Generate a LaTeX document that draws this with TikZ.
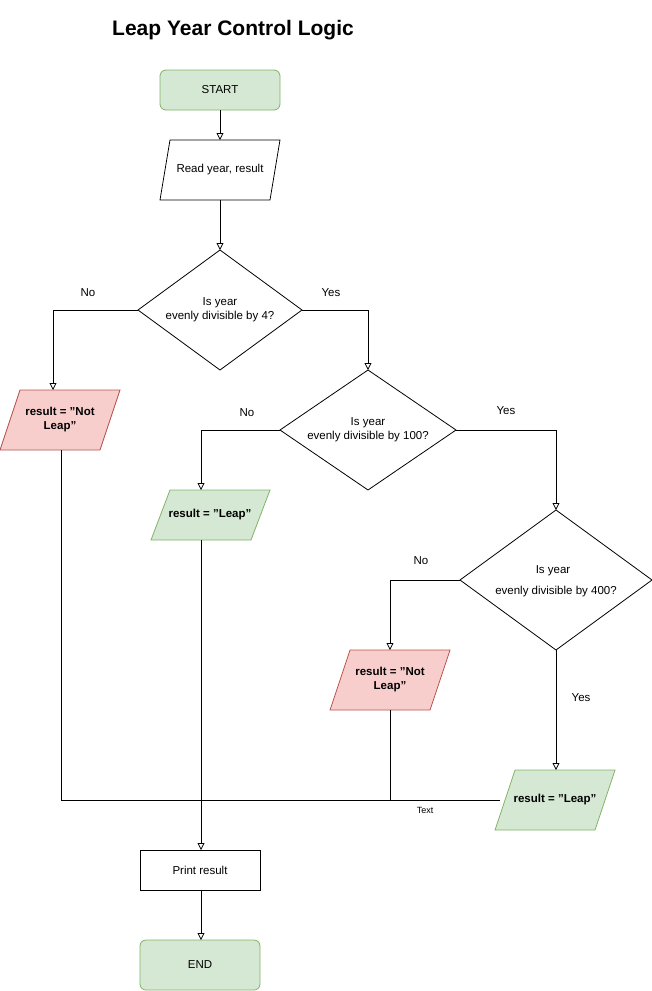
\documentclass[tikz,border=0pt]{standalone}
\usepackage{fontspec}
\setmainfont{Liberation Sans}
\usetikzlibrary{arrows.meta,shapes.geometric}
\definecolor{gfill}{HTML}{D5E8D4}\definecolor{gline}{HTML}{82B366}
\definecolor{rfill}{HTML}{F8CECC}\definecolor{rline}{HTML}{B85450}
\begin{document}
\begin{tikzpicture}[x=1pt,y=-1pt,
  txt/.style={font=\fontsize{11.5}{14}\selectfont,align=center,inner sep=0},
  btxt/.style={font=\fontsize{11.5}{14}\selectfont\bfseries,align=center,inner sep=0},
  lbl/.style={font=\fontsize{11.5}{14}\selectfont,inner sep=0},
  arr/.style={-{Triangle[open,length=7pt,width=7pt]}},
  ln/.style={line width=0.8pt}]
\useasboundingbox (0,0) rectangle (651,991);
\node[font=\fontsize{21}{24}\selectfont\bfseries] (title) at (233,30) {Leap Year Control Logic};
% START
\draw[ln,fill=gfill,draw=gline,rounded corners=6pt] (160,70) rectangle (280,110);
\node[txt] (start) at (220,90) {START};
% Read
\draw[ln,fill=white] (170,140) -- (280,140) -- (270,200) -- (160,200) -- cycle;
\node[txt] (read) at (220,170) {Read year, result};
% Diamond 1
\draw[ln] (220,250) -- (302,310) -- (220,370) -- (138,310) -- cycle;
\node[txt] (d1) at (220,310) {Is year\\evenly divisible by 4?};
% Red 1
\draw[ln,fill=rfill,draw=rline] (20,390) -- (120,390) -- (100,450) -- (0,450) -- cycle;
\node[btxt] (r1) at (60,420) {result = "Not\\Leap"};
% Diamond 2
\draw[ln] (368,370) -- (456,430) -- (368,490) -- (280,430) -- cycle;
\node[txt] (d2) at (368,430) {Is year\\evenly divisible by 100?};
% Green 1
\draw[ln,fill=gfill,draw=gline] (170,490) -- (270,490) -- (251,540) -- (151,540) -- cycle;
\node[btxt] (g1) at (210,515) {result = "Leap"};
% Diamond 3
\draw[ln] (556,510) -- (652,580) -- (556,650) -- (460,580) -- cycle;
\node[txt] (d3a) at (553,571) {Is year};
\node[txt] (d3b) at (556,592) {evenly divisible by 400?};
% Red 2
\draw[ln,fill=rfill,draw=rline] (350,650) -- (450,650) -- (430,710) -- (330,710) -- cycle;
\node[btxt] (r2) at (390,680) {result = "Not\\Leap"};
% Green 2
\draw[ln,fill=gfill,draw=gline] (515,770) -- (615,770) -- (595,830) -- (495,830) -- cycle;
\node[btxt] (g2) at (555,800) {result = "Leap"};
% Print
\draw[ln] (140,850) rectangle (260,890);
\node[txt] (print) at (200,870) {Print result};
% END
\draw[ln,fill=gfill,draw=gline,rounded corners=6pt] (140,940) rectangle (260,990);
\node[txt] (end) at (200,965) {END};
% labels
\node[lbl] (no1) at (88,293) {No};
\node[lbl] (yes1) at (331,293) {Yes};
\node[lbl] (no2) at (247,413) {No};
\node[lbl] (yes2) at (506,411) {Yes};
\node[lbl] (no3) at (421,561) {No};
\node[lbl] (yes3) at (581,698) {Yes};
\node[font=\fontsize{9}{10}\selectfont,inner sep=0] (t) at (425,810) {Text};
% connectors
\draw[ln,arr] (220,110) -- (220,140);
\draw[ln,arr] (220,200) -- (220,250);
\draw[ln,arr] (138,310) -- (53,310) -- (53,390);
\draw[ln,arr] (302,310) -- (368,310) -- (368,370);
\draw[ln,arr] (280,430) -- (201,430) -- (201,490);
\draw[ln,arr] (456,430) -- (556,430) -- (556,510);
\draw[ln,arr] (460,580) -- (390,580) -- (390,650);
\draw[ln,arr] (556,650) -- (556,770);
\draw[ln] (61,450) -- (61,800) -- (500,800);
\draw[ln] (390,710) -- (390,800);
\draw[ln,arr] (201,540) -- (201,850);
\draw[ln,arr] (201,890) -- (201,940);
\end{tikzpicture}
\end{document}
